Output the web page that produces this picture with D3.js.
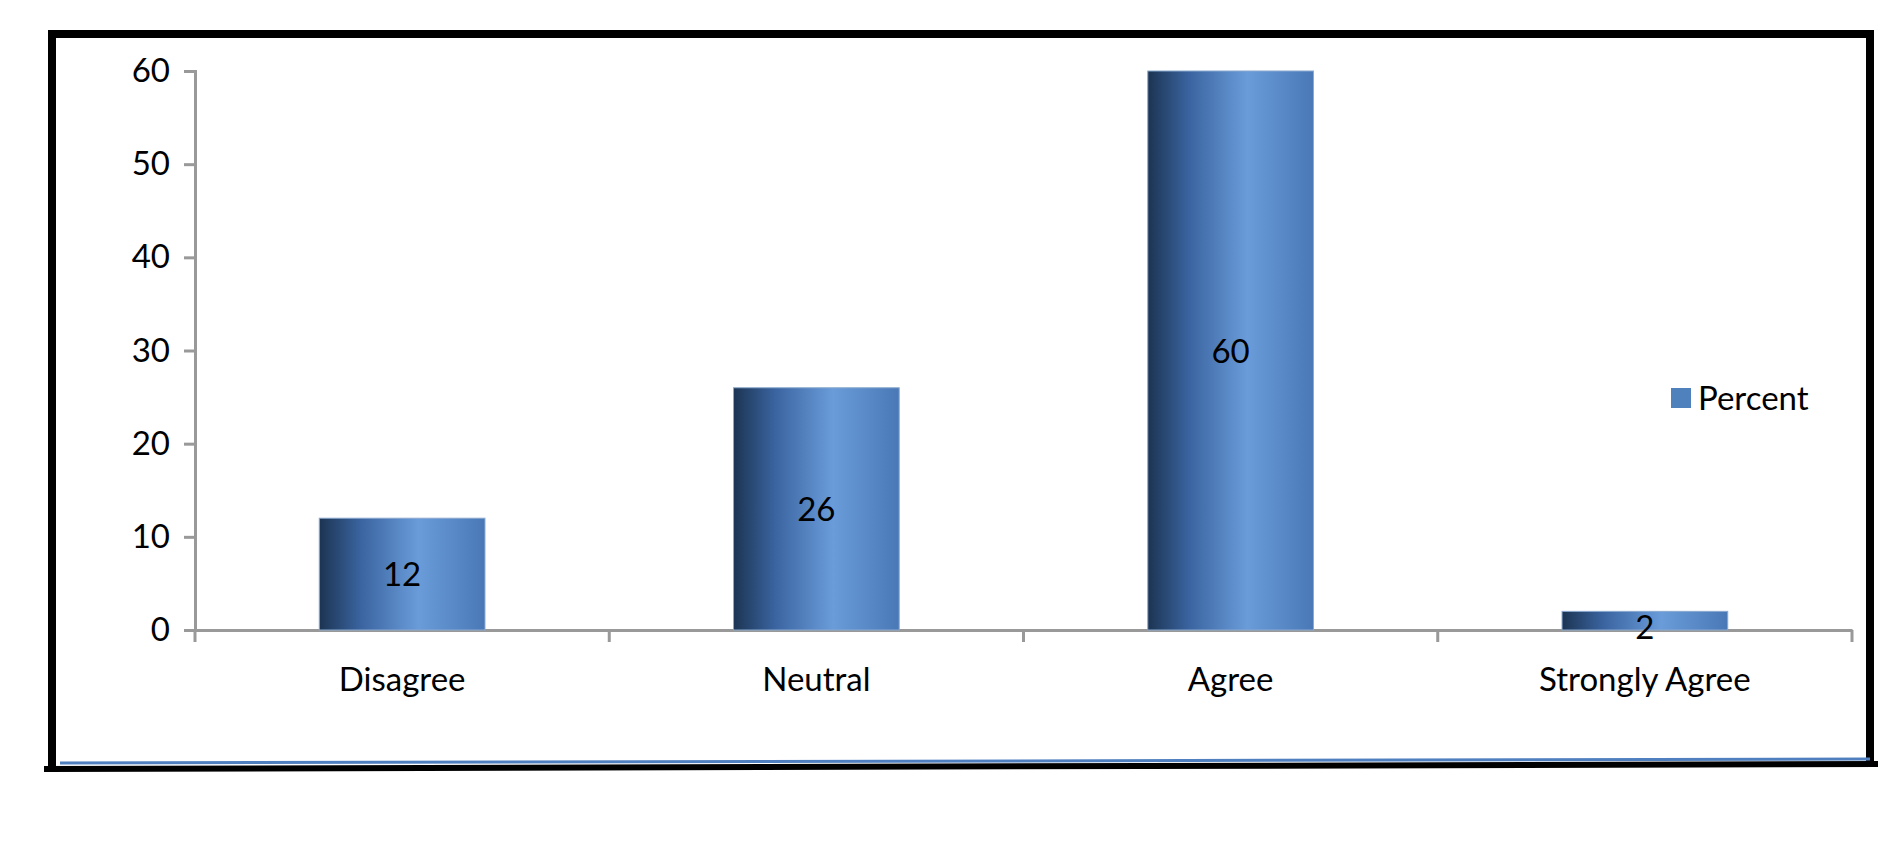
<!DOCTYPE html>
<html><head><meta charset="utf-8">
<script src="https://cdn.jsdelivr.net/npm/d3@7"></script>
<style>body{margin:0;background:#fff}svg{display:block}text{font-family:Lato,"Open Sans",sans-serif}</style>
</head><body><svg id="chart" width="1878" height="846"></svg>
<script>
const categories = ['Disagree', 'Neutral', 'Agree', 'Strongly Agree'];
const percent = [12, 26, 60, 2];
const yTicks = [0, 10, 20, 30, 40, 50, 60];
const seriesName = 'Percent';

const svg = d3.select('#chart');

// Gradient for the "cylinder" bar look
const grad = svg.append('defs').append('linearGradient').attr('id', 'barGrad')
  .attr('x1', 0).attr('x2', 1).attr('y1', 0).attr('y2', 0);
grad.append('stop').attr('offset', '0%').attr('stop-color', '#1c3452');
grad.append('stop').attr('offset', '25%').attr('stop-color', '#3a64a0');
grad.append('stop').attr('offset', '60%').attr('stop-color', '#6a9cda');
grad.append('stop').attr('offset', '100%').attr('stop-color', '#4a78b6');

// Outer frame
svg.append('path').attr('d', 'M52,772 L52,34 L1870,34 L1870,766')
  .attr('fill', 'none').attr('stroke', '#000').attr('stroke-width', 8);
svg.append('line').attr('x1', 44).attr('x2', 1878).attr('y1', 769).attr('y2', 764)
  .attr('stroke', '#000').attr('stroke-width', 6);
svg.append('line').attr('x1', 60).attr('x2', 1870).attr('y1', 763).attr('y2', 759)
  .attr('stroke', '#4f7fbf').attr('stroke-width', 3);

const x = d3.scaleBand().domain(categories).range([195, 1852]).paddingInner(0.6).paddingOuter(0.3);
const y = d3.scaleLinear().domain([0, 60]).range([630, 71]);

const yAxis = svg.append('g').attr('transform', 'translate(195,0)')
  .call(d3.axisLeft(y).tickValues(yTicks).tickSize(11).tickPadding(14));
const xAxis = svg.append('g').attr('transform', 'translate(0,630)')
  .call(d3.axisBottom(x).tickSize(0).tickPadding(38));
[yAxis, xAxis].forEach(a => {
  a.select('.domain').attr('stroke', '#999').attr('stroke-width', 3);
  a.selectAll('line').attr('stroke', '#999').attr('stroke-width', 3);
  a.selectAll('text').attr('fill', '#000').style('font-size', '33px').style('font-family', 'Lato,"Open Sans",sans-serif');
});
// category separator ticks on x axis
const step = x.step();
const bounds = d3.range(categories.length + 1).map(i => x.range()[0] + i * (x.range()[1] - x.range()[0]) / categories.length);
svg.selectAll('.xsep').data(bounds).enter().append('line')
  .attr('x1', d => d).attr('x2', d => d).attr('y1', 630).attr('y2', 642)
  .attr('stroke', '#999').attr('stroke-width', 3);

svg.selectAll('.bar').data(percent).enter().append('rect')
  .attr('x', (d, i) => x(categories[i])).attr('width', x.bandwidth())
  .attr('y', d => y(d)).attr('height', d => y(0) - y(d))
  .attr('fill', 'url(#barGrad)').attr('stroke', '#8aa9cf').attr('stroke-width', 1);

svg.selectAll('.lbl').data(percent).enter().append('text')
  .attr('x', (d, i) => x(categories[i]) + x.bandwidth() / 2)
  .attr('y', d => (y(d) + y(0)) / 2 + 12 + (d < 5 ? 6 : 0))
  .attr('text-anchor', 'middle').style('font-size', '33px').attr('fill', '#000')
  .text(d => d);

// Legend
svg.append('rect').attr('x', 1671).attr('y', 388).attr('width', 20).attr('height', 20).attr('fill', '#4f81bd');
svg.append('text').attr('x', 1698).attr('y', 410).style('font-size', '33px').attr('fill', '#000').text(seriesName);
</script></body></html>
